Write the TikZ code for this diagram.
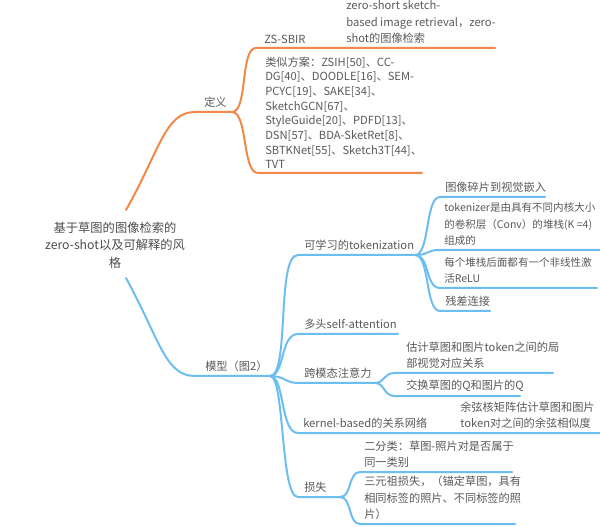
\documentclass[tikz,border=0pt]{standalone}
\usepackage{fontspec}
\setmainfont{Noto Sans CJK SC}
\begin{document}
\begin{tikzpicture}[x=0.75pt,y=-0.75pt,
  txt/.style={inner sep=0pt,anchor=south west,align=left,text=black!65,font=\fontsize{8.4}{12.4}\selectfont},
  sm/.style={font=\fontsize{7.9}{12.4}\selectfont}]
\useasboundingbox (0,0) rectangle (600,527);
\tikzset{ob/.style={draw={rgb,255:red,240;green,136;blue,74},line width=1.5pt,line cap=round},
 bb/.style={draw={rgb,255:red,108;green,190;blue,240},line width=1.5pt,line cap=round}}
% root
\node[inner sep=0pt,align=center,text=black!70,font=\fontsize{9.2}{13.2}\selectfont] (root) at (115,245) {基于草图的图像检索的\\zero-shot以及可解释的风\\格};
\coordinate (ro) at (126,210); \coordinate (rb) at (126,278);
% orange
\coordinate (d0) at (195,112); \coordinate (d1) at (232,112);
\node[txt] (dy) at (204,108) {定义};
\draw[ob] (ro) .. controls (160,150) and (165,112) .. (d0) -- (d1);
\coordinate (z0) at (256,48); \coordinate (z1) at (495,48);
\node[txt] (zs) at (264,44) {ZS-SBIR};
\node[txt] (zd) at (346,44) {zero-short sketch-\\based image retrieval，zero-\\shot的图像检索};
\draw[ob] (d1) .. controls (248,112) and (240,48) .. (z0) -- (z1);
\coordinate (s0) at (258,173); \coordinate (s1) at (422,173);
\node[txt,font=\fontsize{8.4}{11}\selectfont] (sim) at (265,169) {类似方案：ZSIH[50]、CC-\\DG[40]、DOODLE[16]、SEM-\\PCYC[19]、SAKE[34]、\\SketchGCN[67]、\\StyleGuide[20]、PDFD[13]、\\DSN[57]、BDA-SketRet[8]、\\SBTKNet[55]、Sketch3T[44]、\\TVT};
\draw[ob] (d1) .. controls (248,112) and (242,173) .. (s0) -- (s1);
% blue
\coordinate (m0) at (195,376); \coordinate (m1) at (270,376);
\node[txt] (mx) at (205,372) {模型（图2）};
\draw[bb] (rb) .. controls (160,340) and (165,376) .. (m0) -- (m1);
% tokenization
\coordinate (t0) at (298,255); \coordinate (t1) at (415,255);
\node[txt] (tk) at (304,251) {可学习的tokenization};
\draw[bb] (m1) .. controls (290,376) and (276,255) .. (t0) -- (t1);
\foreach \n/\y/\e in {a/197/545,b/250/600,c/288/597,d/311/490}{
  \coordinate (\n0) at (440,\y); \coordinate (\n1) at (\e,\y);
  \draw[bb] (t1) .. controls (430,255) and (425,\y) .. (\n0) -- (\n1);}
\node[txt] (ta) at (445,193) {图像碎片到视觉嵌入};
\node[txt,sm] (tb) at (444,246) {tokenizer是由具有不同内核大小\\的卷积层（Conv）的堆栈(K =4)\\组成的};
\node[txt,sm] (tc) at (444,284) {每个堆栈后面都有一个非线性激\\活ReLU};
\node[txt] (td) at (445,307) {残差连接};
% self-attention
\coordinate (sa0) at (298,334); \coordinate (sa1) at (398,334);
\node[txt] (sa) at (304,330) {多头self-attention};
\draw[bb] (m1) .. controls (285,376) and (280,334) .. (sa0) -- (sa1);
% cross
\coordinate (c0) at (298,383); \coordinate (c1) at (375,383);
\node[txt] (cm) at (304,379) {跨模态注意力};
\draw[bb] (m1) .. controls (285,376) and (285,383) .. (c0) -- (c1);
\coordinate (ce0) at (395,373); \coordinate (ce1) at (553,373);
\coordinate (cf0) at (395,396); \coordinate (cf1) at (520,396);
\draw[bb] (c1) .. controls (385,383) and (383,373) .. (ce0) -- (ce1);
\draw[bb] (c1) .. controls (385,383) and (383,396) .. (cf0) -- (cf1);
\node[txt] (ce) at (406,369) {估计草图和图片token之间的局\\部视觉对应关系};
\node[txt] (cf) at (406,392) {交换草图的Q和图片的Q};
% kernel
\coordinate (k0) at (298,433); \coordinate (k1) at (455,433); \coordinate (k2) at (600,433);
\node[txt] (kb) at (303,429) {kernel-based的关系网络};
\draw[bb] (m1) .. controls (285,376) and (280,433) .. (k0) -- (k1) -- (k2);
\node[txt] (kc) at (460,429) {余弦核矩阵估计草图和图片\\token对之间的余弦相似度};
% loss
\coordinate (l0) at (298,497); \coordinate (l1) at (340,497);
\node[txt] (ls) at (304,493) {损失};
\draw[bb] (m1) .. controls (285,376) and (280,497) .. (l0) -- (l1);
\coordinate (la0) at (360,472); \coordinate (la1) at (512,472);
\coordinate (lb0) at (360,524); \coordinate (lb1) at (515,524);
\draw[bb] (l1) .. controls (352,497) and (348,472) .. (la0) -- (la1);
\draw[bb] (l1) .. controls (352,497) and (348,524) .. (lb0) -- (lb1);
\node[txt] (la) at (364,468) {二分类：草图-照片对是否属于\\同一类别};
\node[txt] (lb) at (364,520) {三元祖损失，（锚定草图，具有\\相同标签的照片、不同标签的照\\片）};
\end{tikzpicture}
\end{document}
